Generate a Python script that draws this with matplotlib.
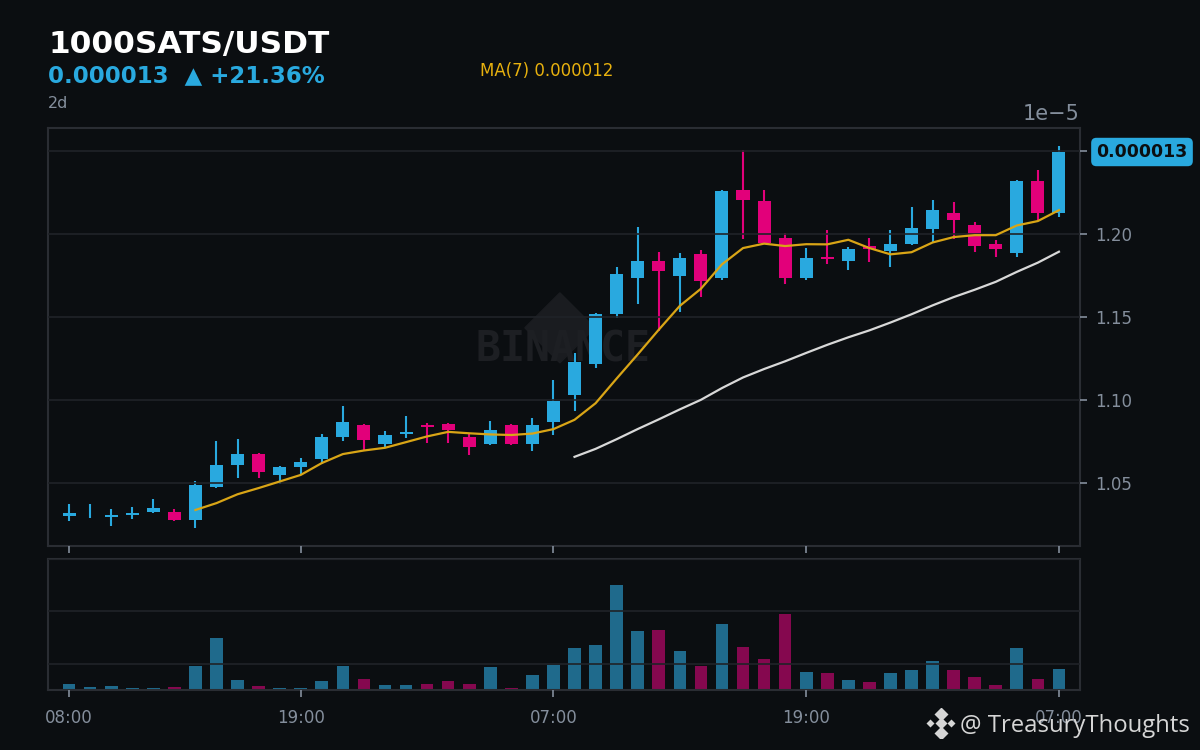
import numpy as np
import pandas as pd
import matplotlib
matplotlib.use("Agg")
import matplotlib.pyplot as plt
from matplotlib.patches import Polygon

# hourly candles, prices in units of 1e-5 USDT
opens = [1.0298, 1.0301, 1.0295, 1.0307, 1.0325, 1.0325, 1.0277, 1.0478,
         1.0608, 1.0675, 1.0548, 1.0596, 1.0645, 1.0777, 1.0849, 1.0735,
         1.0795, 1.0849, 1.0855, 1.0777, 1.0735, 1.0849, 1.0735, 1.0867,
         1.1030, 1.1217, 1.1518, 1.1735, 1.1837, 1.1747, 1.1880, 1.1735,
         1.2265, 1.2199, 1.1976, 1.1735, 1.1860, 1.1837, 1.1928, 1.1898,
         1.1940, 1.2030, 1.2127, 1.2054, 1.1940, 1.1886, 1.2319, 1.2127]
highs = [1.0374, 1.0374, 1.0343, 1.0355, 1.0404, 1.0343, 1.0512, 1.0753,
         1.0765, 1.0681, 1.0602, 1.0651, 1.0795, 1.0964, 1.0855, 1.0813,
         1.0904, 1.0861, 1.0861, 1.0795, 1.0873, 1.0855, 1.0892, 1.1120,
         1.1283, 1.1524, 1.1801, 1.2042, 1.1892, 1.1886, 1.1904, 1.2265,
         1.2506, 1.2265, 1.2006, 1.1916, 1.2024, 1.1922, 1.1976, 1.2024,
         1.2163, 1.2205, 1.2193, 1.2072, 1.1964, 1.2325, 1.2386, 1.2530]
lows = [1.0271, 1.0291, 1.0241, 1.0283, 1.0319, 1.0271, 1.0229, 1.0470,
        1.0530, 1.0530, 1.0496, 1.0556, 1.0614, 1.0753, 1.0699, 1.0717,
        1.0771, 1.0741, 1.0741, 1.0669, 1.0729, 1.0729, 1.0693, 1.0789,
        1.0934, 1.1193, 1.1494, 1.1578, 1.1416, 1.1530, 1.1620, 1.1723,
        1.1970, 1.1946, 1.1699, 1.1723, 1.1819, 1.1783, 1.1831, 1.1801,
        1.1934, 1.1952, 1.1970, 1.1892, 1.1861, 1.1861, 1.2084, 1.2102]
closes = [1.0318, 1.0302, 1.0307, 1.0319, 1.0349, 1.0277, 1.0488, 1.0608,
          1.0675, 1.0568, 1.0596, 1.0627, 1.0777, 1.0867, 1.0759, 1.0789,
          1.0807, 1.0837, 1.0819, 1.0717, 1.0819, 1.0735, 1.0849, 1.0996,
          1.1229, 1.1518, 1.1759, 1.1837, 1.1777, 1.1855, 1.1717, 1.2259,
          1.2205, 1.1946, 1.1735, 1.1855, 1.1848, 1.1910, 1.1910, 1.1940,
          1.2036, 1.2145, 1.2084, 1.1928, 1.1910, 1.2319, 1.2127, 1.2494]
volumes = [2.4, 1.3, 1.65, 0.7, 0.7, 1.3, 9.0, 19.7, 3.96, 1.65, 0.9, 0.9,
           3.6, 9.0, 4.35, 2.0, 2.0, 2.4, 3.6, 2.4, 8.6, 0.9, 5.9, 9.35,
           15.9, 17.0, 40.1, 22.4, 22.8, 14.7, 9.0, 25.1, 16.3, 11.65, 29.0, 7.0,
           6.65, 3.96, 3.2, 6.65, 7.8, 10.9, 7.8, 5.1, 2.0, 15.9, 4.35, 8.2]
tick_pos = [0, 11, 23, 35, 47]
tick_labels = ["08:00", "19:00", "07:00", "19:00", "07:00"]

BG = "#0b0e11"
UP = "#29a9df"
DOWN = "#e2007a"
UP_VOL = "#1f6a8c"
DOWN_VOL = "#85084f"
GRID = "#202328"
SPINE = "#2a2d33"
TXT = "#848e9c"

df = pd.DataFrame({"open": opens, "high": highs, "low": lows,
                   "close": closes, "volume": volumes}) * [1e-5, 1e-5, 1e-5, 1e-5, 1]
df["ma7"] = df["close"].rolling(7).mean()
df["ma25"] = df["close"].rolling(25).mean()
x = np.arange(len(df))
up = df["close"] >= df["open"]
colors = np.where(up, UP, DOWN)

fig = plt.figure(figsize=(12, 7.5), dpi=100, facecolor=BG)
ax = fig.add_axes([0.04, 0.272, 0.86, 0.5573], facecolor=BG)
axv = fig.add_axes([0.04, 0.08, 0.86, 0.1747], facecolor=BG, sharex=ax)

# background watermark
diamond = Polygon([(0.496, 0.522 + 0.0837), (0.496 + 0.0339, 0.522),
                   (0.496, 0.522 - 0.0837), (0.496 - 0.0339, 0.522)],
                  closed=True, transform=ax.transAxes, color="#1a1c20", zorder=0.2)
ax.add_patch(diamond)
ax.text(0.499, 0.469, "BINANCE", transform=ax.transAxes, family="DejaVu Sans Mono",
        weight="bold", fontsize=30, color="#1d1f23", ha="center", va="center", zorder=0.3)

# candles
ax.vlines(x, df["low"], df["high"], colors=colors, lw=1.5, zorder=1)
body_low = np.minimum(df["open"], df["close"])
body_h = np.abs(df["close"] - df["open"])
ax.bar(x, body_h, bottom=body_low, width=0.62, color=colors, zorder=1.1)
ax.plot(x, df["ma7"], color="#d9a516", lw=1.6, zorder=3)
ax.plot(x, df["ma25"], color="#d8d8d8", lw=1.6, zorder=3)

ax.set_xlim(-1, 48)
ax.set_ylim(1.012e-5, 1.2639e-5)
ax.set_yticks([1.05e-5, 1.10e-5, 1.15e-5, 1.20e-5, 1.25e-5])
ax.yaxis.tick_right()
ax.set_axisbelow(False)
ax.grid(axis="y", color=GRID, lw=1.2)
ax.grid(axis="x", visible=False)
ax.tick_params(axis="y", colors=TXT, labelsize=12, length=5, width=1.2, pad=6)
ax.tick_params(axis="x", colors=TXT, length=5, width=1.2, labelbottom=False)
ax.yaxis.get_offset_text().set_color(TXT)
ax.yaxis.get_offset_text().set_fontsize(15)
ax.yaxis.OFFSETTEXTPAD = 6

# volume
vcolors = np.where(up, UP_VOL, DOWN_VOL)
axv.bar(x, df["volume"], width=0.6, color=vcolors, zorder=1)
axv.set_ylim(0, 50)
axv.set_yticks([10, 30, 50])
axv.set_axisbelow(False)
axv.grid(axis="y", color=GRID, lw=1.2)
axv.tick_params(axis="y", left=False, labelleft=False)
axv.set_xticks(tick_pos)
axv.set_xticklabels(tick_labels)
axv.tick_params(axis="x", colors=TXT, labelsize=12, length=5, width=1.2, pad=9)

for a in (ax, axv):
    for s in a.spines.values():
        s.set_color(SPINE)
        s.set_linewidth(1.5)

# header
fig.text(0.04, 0.9289, "1000SATS/USDT", color="white", fontsize=22.5, weight="bold")
fig.text(0.04, 0.8903, "0.000013  \u25b2 +21.36%", color=UP, fontsize=16.5, weight="bold")
fig.text(0.40, 0.8987, "MA(7) 0.000012", color="#e8b10e", fontsize=12)
fig.text(0.04, 0.8556, "2d", color=TXT, fontsize=11.5)

# last price tag
fig.text(1142 / 1200, 1 - 152 / 750, "0.000013", color=BG, fontsize=12.5, weight="bold",
         ha="center", va="center",
         bbox=dict(boxstyle="round,pad=0.3,rounding_size=0.3", fc=UP, ec="none"))

# signature
fig.text(960 / 1200, 1 - 732 / 750, "@ TreasuryThoughts", color="#d6d6d6",
         fontsize=17.2, family="Open Sans")
logo = fig.add_axes([925.7 / 1200, 1 - 738.3 / 750, 30 / 1200, 30 / 750])
logo.set_xlim(-15, 15)
logo.set_ylim(-15, 15)
logo.axis("off")
logo.plot([0], [0], "D", ms=6.5, color="#d6d6d6", mec="none")
logo.plot([-10.5, 10.5], [0, 0], "D", ms=4.5, color="#d6d6d6", mec="none", ls="none")
logo.plot([0, 0], [9.5, -9.5], "D", ms=7, color="#d6d6d6", mec="none", ls="none")

fig.canvas.draw()
ax.get_yticklabels()[-1].set_visible(False)

fig.savefig("out.png", dpi=100, facecolor=BG)
